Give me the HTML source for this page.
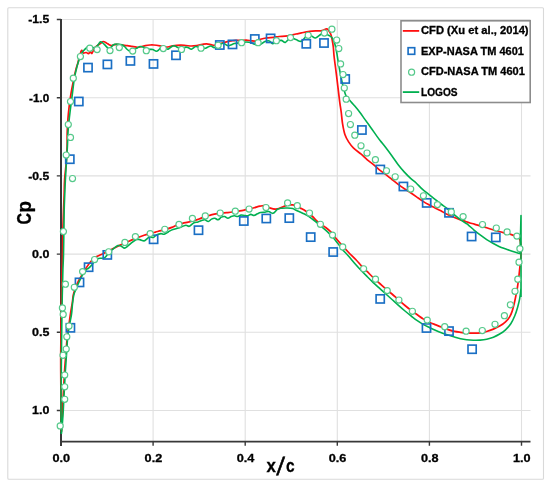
<!DOCTYPE html>
<html><head><meta charset="utf-8"><title>Cp distribution</title>
<style>html,body{margin:0;padding:0;background:#fff;width:550px;height:486px;overflow:hidden}svg{display:block}</style>
</head><body>
<svg width="550" height="486" viewBox="0 0 550 486">
<rect x="0" y="0" width="550" height="486" fill="#fff"/>
<rect x="7.8" y="7.7" width="535.7" height="471.6" rx="1" fill="#fff" stroke="#d9d9d9" stroke-width="1.1"/>
<path d="M153.10 19V441 M245.20 19V441 M337.30 19V441 M429.40 19V441 M521.50 19V441 M61 19.50H530.5 M61 97.70H530.5 M61 175.90H530.5 M61 254.10H530.5 M61 332.30H530.5 M61 410.50H530.5" stroke="#e0e0e0" stroke-width="1.1" fill="none"/>
<path d="M61 19V446" stroke="#383838" stroke-width="2" fill="none"/><path d="M60 441.6H530.5" stroke="#383838" stroke-width="1.6" fill="none"/>
<path d="M56.8 19.50H61 M56.8 97.70H61 M56.8 175.90H61 M56.8 254.10H61 M56.8 332.30H61 M56.8 410.50H61 M153.10 442V445.8 M245.20 442V445.8 M337.30 442V445.8 M429.40 442V445.8 M521.50 442V445.8" stroke="#383838" stroke-width="1.4" fill="none"/>
<text x="28.3" y="23.35" font-family="Liberation Sans, sans-serif" font-weight="bold" stroke="#000" stroke-width="0.3" font-size="11" fill="#000" textLength="21" lengthAdjust="spacingAndGlyphs">-1.5</text>
<text x="29.1" y="101.55" font-family="Liberation Sans, sans-serif" font-weight="bold" stroke="#000" stroke-width="0.3" font-size="11" fill="#000" textLength="20.2" lengthAdjust="spacingAndGlyphs">-1.0</text>
<text x="28.3" y="179.75" font-family="Liberation Sans, sans-serif" font-weight="bold" stroke="#000" stroke-width="0.3" font-size="11" fill="#000" textLength="21" lengthAdjust="spacingAndGlyphs">-0.5</text>
<text x="32.0" y="257.95" font-family="Liberation Sans, sans-serif" font-weight="bold" stroke="#000" stroke-width="0.3" font-size="11" fill="#000" textLength="17.3" lengthAdjust="spacingAndGlyphs">0.0</text>
<text x="32.0" y="336.15" font-family="Liberation Sans, sans-serif" font-weight="bold" stroke="#000" stroke-width="0.3" font-size="11" fill="#000" textLength="17.3" lengthAdjust="spacingAndGlyphs">0.5</text>
<text x="32.0" y="414.35" font-family="Liberation Sans, sans-serif" font-weight="bold" stroke="#000" stroke-width="0.3" font-size="11" fill="#000" textLength="17.3" lengthAdjust="spacingAndGlyphs">1.0</text>
<text x="52.50" y="461.9" font-family="Liberation Sans, sans-serif" font-weight="bold" stroke="#000" stroke-width="0.3" font-size="11" fill="#000" textLength="17.6" lengthAdjust="spacingAndGlyphs">0.0</text>
<text x="144.60" y="461.9" font-family="Liberation Sans, sans-serif" font-weight="bold" stroke="#000" stroke-width="0.3" font-size="11" fill="#000" textLength="17.6" lengthAdjust="spacingAndGlyphs">0.2</text>
<text x="236.70" y="461.9" font-family="Liberation Sans, sans-serif" font-weight="bold" stroke="#000" stroke-width="0.3" font-size="11" fill="#000" textLength="17.6" lengthAdjust="spacingAndGlyphs">0.4</text>
<text x="328.80" y="461.9" font-family="Liberation Sans, sans-serif" font-weight="bold" stroke="#000" stroke-width="0.3" font-size="11" fill="#000" textLength="17.6" lengthAdjust="spacingAndGlyphs">0.6</text>
<text x="420.90" y="461.9" font-family="Liberation Sans, sans-serif" font-weight="bold" stroke="#000" stroke-width="0.3" font-size="11" fill="#000" textLength="17.6" lengthAdjust="spacingAndGlyphs">0.8</text>
<text x="513.00" y="461.9" font-family="Liberation Sans, sans-serif" font-weight="bold" stroke="#000" stroke-width="0.3" font-size="11" fill="#000" textLength="17.6" lengthAdjust="spacingAndGlyphs">1.0</text>
<text transform="translate(266.4 471.6) scale(0.897 1)" font-family="Liberation Sans, sans-serif" font-weight="bold" stroke="#000" stroke-width="0.3" font-size="18.8" fill="#000">x</text>
<text transform="translate(276.3 474.6) skewX(-5.3)" font-family="Liberation Sans, sans-serif" font-size="25.3" fill="#000" stroke="#000" stroke-width="0.55">/</text>
<text transform="translate(285.9 471.8) scale(0.824 1)" font-family="Liberation Sans, sans-serif" font-weight="bold" stroke="#000" stroke-width="0.3" font-size="18.8" fill="#000">c</text>
<text transform="translate(30.7 224.44) rotate(-90) scale(0.82 1)" x="0" y="0" font-family="Liberation Sans, sans-serif" font-weight="bold" stroke="#000" stroke-width="0.3" font-size="19.5" fill="#000">C</text>
<text transform="translate(30.7 212.5) rotate(-90) scale(0.964 1)" x="0" y="0" font-family="Liberation Sans, sans-serif" font-weight="bold" stroke="#000" stroke-width="0.3" font-size="19.5" fill="#000">p</text>
<path d="M61.4,432C61.37,430.00 61.27,425.33 61.2,420C61.13,414.67 61.07,406.67 61,400C60.93,393.33 60.85,386.67 60.8,380C60.75,373.33 60.68,366.67 60.7,360C60.72,353.33 60.80,348.33 60.9,340C61.00,331.67 61.17,318.33 61.3,310C61.43,301.67 61.57,296.67 61.7,290C61.83,283.33 61.95,276.67 62.1,270C62.25,263.33 62.47,256.67 62.6,250C62.73,243.33 62.75,236.67 62.9,230C63.05,223.33 63.30,215.70 63.5,210C63.70,204.30 63.92,200.90 64.1,195.8C64.28,190.70 64.25,184.88 64.6,179.4C64.95,173.92 65.78,168.38 66.2,162.9C66.62,157.42 66.93,151.48 67.1,146.5C67.27,141.52 67.07,137.53 67.2,133C67.33,128.47 67.57,123.78 67.9,119.3C68.23,114.82 68.67,110.50 69.2,106.1C69.73,101.70 70.42,97.02 71.1,92.9C71.78,88.78 72.52,85.23 73.3,81.4C74.08,77.57 75.02,73.05 75.8,69.9C76.58,66.75 77.37,64.82 78,62.5C78.63,60.18 79.02,58.02 79.6,56C80.18,53.98 80.88,50.90 81.5,50.4C82.12,49.90 82.52,52.65 83.3,53C84.08,53.35 85.35,52.40 86.2,52.5C87.05,52.60 87.68,53.72 88.4,53.6C89.12,53.48 89.90,51.85 90.5,51.8C91.10,51.75 91.27,54.02 92,53.3C92.73,52.58 93.82,48.92 94.9,47.5C95.98,46.08 97.48,45.55 98.5,44.8C99.52,44.05 100.20,43.55 101,43C101.80,42.45 102.40,41.52 103.3,41.5C104.20,41.48 105.43,42.37 106.4,42.9C107.37,43.43 108.20,44.27 109.1,44.7C110.00,45.13 110.90,45.50 111.8,45.5C112.70,45.50 113.43,44.83 114.5,44.7C115.57,44.57 116.83,44.62 118.2,44.7C119.57,44.78 121.18,45.05 122.7,45.2C124.22,45.35 125.78,45.40 127.3,45.6C128.82,45.80 130.28,46.13 131.8,46.4C133.32,46.67 135.03,47.10 136.4,47.2C137.77,47.30 138.48,47.27 140,47C141.52,46.73 143.83,45.93 145.5,45.6C147.17,45.27 148.65,45.10 150,45C151.35,44.90 151.93,44.85 153.6,45C155.27,45.15 157.87,45.53 160,45.9C162.13,46.27 164.28,47.20 166.4,47.2C168.52,47.20 170.35,46.23 172.7,45.9C175.05,45.57 178.30,45.27 180.5,45.2C182.70,45.13 184.08,45.37 185.9,45.5C187.72,45.63 189.58,46.00 191.4,46C193.22,46.00 194.98,45.77 196.8,45.5C198.62,45.23 200.67,44.68 202.3,44.4C203.93,44.12 205.15,43.77 206.6,43.8C208.05,43.83 209.72,44.35 211,44.6C212.28,44.85 213.05,45.40 214.3,45.3C215.55,45.20 217.05,44.43 218.5,44C219.95,43.57 221.52,43.10 223,42.7C224.48,42.30 226.07,41.88 227.4,41.6C228.73,41.32 229.65,41.22 231,41C232.35,40.78 233.85,40.40 235.5,40.3C237.15,40.20 239.08,40.43 240.9,40.4C242.72,40.37 244.58,40.02 246.4,40.1C248.22,40.18 250.17,40.77 251.8,40.9C253.43,41.03 254.75,41.17 256.2,40.9C257.65,40.63 258.87,39.78 260.5,39.3C262.13,38.82 263.82,38.33 266,38C268.18,37.67 271.42,37.55 273.6,37.3C275.78,37.05 277.20,36.70 279.1,36.5C281.00,36.30 283.10,36.30 285,36.1C286.90,35.90 288.68,35.65 290.5,35.3C292.32,34.95 294.08,34.40 295.9,34C297.72,33.60 299.58,33.27 301.4,32.9C303.22,32.53 304.98,32.10 306.8,31.8C308.62,31.50 310.48,31.25 312.3,31.1C314.12,30.95 316.07,30.98 317.7,30.9C319.33,30.82 320.63,30.93 322.1,30.6C323.57,30.27 325.42,28.93 326.5,28.9C327.58,28.87 327.88,29.52 328.6,30.4C329.32,31.28 330.20,32.60 330.8,34.2C331.40,35.80 331.78,37.87 332.2,40C332.62,42.13 332.98,44.25 333.3,47C333.62,49.75 333.62,52.18 334.1,56.5C334.58,60.82 335.52,67.42 336.2,72.9C336.88,78.38 337.60,84.45 338.2,89.4C338.80,94.35 339.30,98.83 339.8,102.6C340.30,106.37 340.75,108.53 341.2,112C341.65,115.47 341.88,119.65 342.5,123.4C343.12,127.15 343.88,131.42 344.9,134.5C345.92,137.58 347.15,139.63 348.6,141.9C350.05,144.17 351.50,146.05 353.6,148.1C355.70,150.15 358.92,152.25 361.2,154.2C363.48,156.15 365.25,158.05 367.3,159.8C369.35,161.55 371.43,162.97 373.5,164.7C375.57,166.43 377.63,168.55 379.7,170.2C381.77,171.85 383.85,173.05 385.9,174.6C387.95,176.15 389.95,177.87 392,179.5C394.05,181.13 396.13,182.85 398.2,184.4C400.27,185.95 402.33,187.40 404.4,188.8C406.47,190.20 408.63,191.50 410.6,192.8C412.57,194.10 414.25,195.25 416.2,196.6C418.15,197.95 420.25,199.57 422.3,200.9C424.35,202.23 426.43,203.47 428.5,204.6C430.57,205.73 432.63,206.67 434.7,207.7C436.77,208.73 438.85,209.70 440.9,210.8C442.95,211.90 444.95,213.27 447,214.3C449.05,215.33 451.13,216.15 453.2,217C455.27,217.85 457.33,218.65 459.4,219.4C461.47,220.15 463.83,220.90 465.6,221.5C467.37,222.10 468.55,222.57 470,223C471.45,223.43 472.55,223.60 474.3,224.1C476.05,224.60 478.43,225.38 480.5,226C482.57,226.62 484.63,227.18 486.7,227.8C488.77,228.42 490.85,229.08 492.9,229.7C494.95,230.32 496.95,230.93 499,231.5C501.05,232.07 503.13,232.58 505.2,233.1C507.27,233.62 509.55,234.03 511.4,234.6C513.25,235.17 514.93,235.80 516.3,236.5C517.67,237.20 518.83,237.38 519.6,238.8C520.37,240.22 520.67,242.80 520.9,245C521.13,247.20 521.02,249.77 521,252C520.98,254.23 521.00,255.73 520.8,258.4C520.60,261.07 520.15,264.73 519.8,268C519.45,271.27 519.08,274.83 518.7,278C518.32,281.17 517.97,284.05 517.5,287C517.03,289.95 516.45,292.92 515.9,295.7C515.35,298.48 514.82,301.13 514.2,303.7C513.58,306.27 512.98,308.87 512.2,311.1C511.42,313.33 510.62,315.32 509.5,317.1C508.38,318.88 507.07,320.35 505.5,321.8C503.93,323.25 502.12,324.58 500.1,325.8C498.08,327.02 495.63,328.15 493.4,329.1C491.17,330.05 488.92,330.87 486.7,331.5C484.48,332.13 482.32,332.63 480.1,332.9C477.88,333.17 475.63,333.10 473.4,333.1C471.17,333.10 468.83,333.03 466.7,332.9C464.57,332.77 462.65,332.55 460.6,332.3C458.55,332.05 456.47,331.85 454.4,331.4C452.33,330.95 450.27,330.28 448.2,329.6C446.13,328.92 444.05,328.08 442,327.3C439.95,326.52 437.95,325.72 435.9,324.9C433.85,324.08 431.77,323.37 429.7,322.4C427.63,321.43 425.57,320.37 423.5,319.1C421.43,317.83 419.35,316.25 417.3,314.8C415.25,313.35 413.25,311.95 411.2,310.4C409.15,308.85 407.17,307.32 405,305.5C402.83,303.68 400.37,301.42 398.2,299.5C396.03,297.58 394.05,295.75 392,294C389.95,292.25 387.95,290.75 385.9,289C383.85,287.25 381.77,285.35 379.7,283.5C377.63,281.65 375.57,279.87 373.5,277.9C371.43,275.93 369.35,273.75 367.3,271.7C365.25,269.65 363.05,267.55 361.2,265.6C359.35,263.65 358.37,262.27 356.2,260C354.03,257.73 350.57,254.47 348.2,252C345.83,249.53 344.05,247.50 342,245.2C339.95,242.90 337.80,240.45 335.9,238.2C334.00,235.95 332.45,233.60 330.6,231.7C328.75,229.80 327.00,228.50 324.8,226.8C322.60,225.10 319.45,223.22 317.4,221.5C315.35,219.78 314.42,218.22 312.5,216.5C310.58,214.78 307.97,212.63 305.9,211.2C303.83,209.77 301.38,208.67 300.1,207.9C298.82,207.13 299.43,207.10 298.2,206.6C296.97,206.10 294.52,205.13 292.7,204.9C290.88,204.67 289.12,204.78 287.3,205.2C285.48,205.62 283.43,206.78 281.8,207.4C280.17,208.02 278.95,208.65 277.5,208.9C276.05,209.15 274.57,209.12 273.1,208.9C271.63,208.68 270.15,208.13 268.7,207.6C267.25,207.07 265.85,205.93 264.4,205.7C262.95,205.47 261.72,205.85 260,206.2C258.28,206.55 256.00,207.30 254.1,207.8C252.20,208.30 250.42,208.78 248.6,209.2C246.78,209.62 245.02,209.98 243.2,210.3C241.38,210.62 239.52,210.82 237.7,211.1C235.88,211.38 234.12,211.73 232.3,212C230.48,212.27 228.62,212.48 226.8,212.7C224.98,212.92 223.22,213.12 221.4,213.3C219.58,213.48 217.72,213.50 215.9,213.8C214.08,214.10 212.32,214.65 210.5,215.1C208.68,215.55 206.90,215.85 205,216.5C203.10,217.15 201.00,218.28 199.1,219C197.20,219.72 195.42,220.27 193.6,220.8C191.78,221.33 190.02,221.78 188.2,222.2C186.38,222.62 184.52,222.85 182.7,223.3C180.88,223.75 179.12,224.22 177.3,224.9C175.48,225.58 173.62,226.68 171.8,227.4C169.98,228.12 168.22,228.67 166.4,229.2C164.58,229.73 162.72,230.12 160.9,230.6C159.08,231.08 157.32,231.60 155.5,232.1C153.68,232.60 151.90,233.07 150,233.6C148.10,234.13 146.00,234.70 144.1,235.3C142.20,235.90 140.42,236.52 138.6,237.2C136.78,237.88 135.02,238.63 133.2,239.4C131.38,240.17 129.52,241.00 127.7,241.8C125.88,242.60 124.12,243.38 122.3,244.2C120.48,245.02 118.62,245.82 116.8,246.7C114.98,247.58 113.20,248.57 111.4,249.5C109.60,250.43 107.37,251.60 106,252.3C104.63,253.00 104.37,253.17 103.2,253.7C102.03,254.23 100.38,254.87 99,255.5C97.62,256.13 96.27,256.50 94.9,257.5C93.53,258.50 92.17,259.90 90.8,261.5C89.43,263.10 88.07,265.05 86.7,267.1C85.33,269.15 83.97,271.48 82.6,273.8C81.23,276.12 79.70,278.60 78.5,281C77.30,283.40 76.27,285.87 75.4,288.2C74.53,290.53 73.82,292.55 73.3,295C72.78,297.45 72.75,299.93 72.3,302.9C71.85,305.87 71.15,309.23 70.6,312.8C70.05,316.37 69.55,320.47 69,324.3C68.45,328.13 67.77,331.52 67.3,335.8C66.83,340.08 66.55,345.63 66.2,350C65.85,354.37 65.48,358.33 65.2,362C64.92,365.67 64.73,368.17 64.5,372C64.27,375.83 64.05,380.33 63.8,385C63.55,389.67 63.25,395.00 63,400C62.75,405.00 62.52,410.33 62.3,415C62.08,419.67 61.85,425.17 61.7,428C61.55,430.83 61.45,431.33 61.4,432" fill="none" stroke="#ff0f0f" stroke-width="1.7" stroke-linejoin="round"/>
<path d="M61.4,434C61.35,431.67 61.17,425.67 61.1,420C61.03,414.33 60.98,406.67 61,400C61.02,393.33 61.13,386.67 61.2,380C61.27,373.33 61.33,366.67 61.4,360C61.47,353.33 61.50,348.33 61.6,340C61.70,331.67 61.87,318.33 62,310C62.13,301.67 62.25,296.67 62.4,290C62.55,283.33 62.72,275.83 62.9,270C63.08,264.17 63.33,261.67 63.5,255C63.67,248.33 63.78,237.50 63.9,230C64.02,222.50 64.07,215.70 64.2,210C64.33,204.30 64.50,200.90 64.7,195.8C64.90,190.70 65.12,184.88 65.4,179.4C65.68,173.92 66.07,168.38 66.4,162.9C66.73,157.42 67.13,151.65 67.4,146.5C67.67,141.35 67.70,136.53 68,132C68.30,127.47 68.73,123.62 69.2,119.3C69.67,114.98 70.25,110.50 70.8,106.1C71.35,101.70 71.90,97.57 72.5,92.9C73.10,88.23 73.72,82.22 74.4,78.1C75.08,73.98 75.92,70.97 76.6,68.2C77.28,65.43 77.87,63.62 78.5,61.5C79.13,59.38 79.60,57.23 80.4,55.5C81.20,53.77 82.22,52.43 83.3,51.1C84.38,49.77 85.70,48.30 86.9,47.5C88.10,46.70 89.40,46.27 90.5,46.3C91.60,46.33 92.52,47.63 93.5,47.7C94.48,47.77 95.43,47.47 96.4,46.7C97.37,45.93 98.62,43.92 99.3,43.1C99.98,42.28 99.93,41.83 100.5,41.8C101.07,41.77 101.87,42.27 102.7,42.9C103.53,43.53 104.58,44.72 105.5,45.6C106.42,46.48 107.30,47.88 108.2,48.2C109.10,48.52 110.00,48.08 110.9,47.5C111.80,46.92 112.68,45.28 113.6,44.7C114.52,44.12 115.03,44.00 116.4,44C117.77,44.00 120.45,44.28 121.8,44.7C123.15,45.12 123.58,45.70 124.5,46.5C125.42,47.30 126.38,48.72 127.3,49.5C128.22,50.28 129.05,51.07 130,51.2C130.95,51.33 131.93,50.77 133,50.3C134.07,49.83 135.23,49.03 136.4,48.4C137.57,47.77 138.95,46.73 140,46.5C141.05,46.27 141.78,46.77 142.7,47C143.62,47.23 144.43,47.52 145.5,47.9C146.57,48.28 147.90,49.03 149.1,49.3C150.30,49.57 151.48,49.18 152.7,49.5C153.92,49.82 155.33,51.20 156.4,51.2C157.47,51.20 158.20,50.23 159.1,49.5C160.00,48.77 160.82,47.08 161.8,46.8C162.78,46.52 163.93,47.42 165,47.8C166.07,48.18 166.92,49.42 168.2,49.1C169.48,48.78 171.48,46.37 172.7,45.9C173.92,45.43 174.57,46.02 175.5,46.3C176.43,46.58 177.22,47.23 178.3,47.6C179.38,47.97 180.73,48.58 182,48.5C183.27,48.42 184.82,47.22 185.9,47.1C186.98,46.98 187.58,47.43 188.5,47.8C189.42,48.17 190.20,49.52 191.4,49.3C192.60,49.08 194.43,46.80 195.7,46.5C196.97,46.20 198.03,47.20 199,47.5C199.97,47.80 200.42,48.18 201.5,48.3C202.58,48.42 204.42,48.42 205.5,48.2C206.58,47.98 207.08,47.37 208,47C208.92,46.63 209.95,45.90 211,46C212.05,46.10 213.13,47.63 214.3,47.6C215.47,47.57 216.55,46.52 218,45.8C219.45,45.08 221.43,43.35 223,43.3C224.57,43.25 226.23,45.17 227.4,45.5C228.57,45.83 228.83,45.62 230,45.3C231.17,44.98 233.07,43.98 234.4,43.6C235.73,43.22 236.82,43.18 238,43C239.18,42.82 240.10,42.67 241.5,42.5C242.90,42.33 244.87,42.00 246.4,42C247.93,42.00 249.18,42.08 250.7,42.5C252.22,42.92 253.87,44.22 255.5,44.5C257.13,44.78 258.93,44.70 260.5,44.2C262.07,43.70 263.43,42.05 264.9,41.5C266.37,40.95 268.03,40.55 269.3,40.9C270.57,41.25 271.30,43.50 272.5,43.6C273.70,43.70 275.03,42.03 276.5,41.5C277.97,40.97 279.83,40.25 281.3,40.4C282.77,40.55 283.77,42.80 285.3,42.4C286.83,42.00 288.73,38.47 290.5,38C292.27,37.53 294.08,39.05 295.9,39.6C297.72,40.15 299.58,41.93 301.4,41.3C303.22,40.67 305.17,36.72 306.8,35.8C308.43,34.88 309.75,35.43 311.2,35.8C312.65,36.17 313.87,38.27 315.5,38C317.13,37.73 319.53,35.05 321,34.2C322.47,33.35 323.03,32.72 324.3,32.9C325.57,33.08 327.33,34.53 328.6,35.3C329.87,36.07 330.98,36.42 331.9,37.5C332.82,38.58 333.47,40.17 334.1,41.8C334.73,43.43 335.25,45.40 335.7,47.3C336.15,49.20 336.25,50.03 336.8,53.2C337.35,56.37 338.22,61.92 339,66.3C339.78,70.68 340.68,75.65 341.5,79.5C342.32,83.35 343.12,86.62 343.9,89.4C344.68,92.18 345.20,94.33 346.2,96.2C347.20,98.07 348.47,98.95 349.9,100.6C351.33,102.25 353.15,104.15 354.8,106.1C356.45,108.05 358.15,110.13 359.8,112.3C361.45,114.47 362.85,116.53 364.7,119.1C366.55,121.67 368.85,124.82 370.9,127.7C372.95,130.58 375.43,134.22 377,136.4C378.57,138.58 378.82,138.90 380.3,140.8C381.78,142.70 383.95,145.27 385.9,147.8C387.85,150.33 389.95,153.18 392,156C394.05,158.82 396.13,162.02 398.2,164.7C400.27,167.38 402.33,169.83 404.4,172.1C406.47,174.37 408.63,176.48 410.6,178.3C412.57,180.12 414.25,181.18 416.2,183C418.15,184.82 420.25,187.35 422.3,189.2C424.35,191.05 426.43,192.45 428.5,194.1C430.57,195.75 432.63,197.45 434.7,199.1C436.77,200.75 438.85,202.47 440.9,204C442.95,205.53 444.95,206.65 447,208.3C449.05,209.95 451.13,212.15 453.2,213.9C455.27,215.65 457.33,217.27 459.4,218.8C461.47,220.33 464.13,222.10 465.6,223.1C467.07,224.10 466.75,223.60 468.2,224.8C469.65,226.00 472.25,228.57 474.3,230.3C476.35,232.03 478.43,233.65 480.5,235.2C482.57,236.75 484.63,238.25 486.7,239.6C488.77,240.95 490.85,242.17 492.9,243.3C494.95,244.43 496.95,245.48 499,246.4C501.05,247.32 503.13,248.05 505.2,248.8C507.27,249.55 509.55,250.28 511.4,250.9C513.25,251.52 514.87,252.02 516.3,252.5C517.73,252.98 519.38,253.58 520,253.8 M521,288C520.92,288.83 520.75,291.05 520.5,293C520.25,294.95 520.00,297.25 519.5,299.7C519.00,302.15 518.28,305.02 517.5,307.7C516.72,310.38 515.92,313.12 514.8,315.8C513.68,318.48 512.35,321.47 510.8,323.8C509.25,326.13 507.28,328.13 505.5,329.8C503.72,331.47 502.12,332.57 500.1,333.8C498.08,335.03 495.63,336.30 493.4,337.2C491.17,338.10 488.92,338.72 486.7,339.2C484.48,339.68 482.32,339.93 480.1,340.1C477.88,340.27 475.63,340.25 473.4,340.2C471.17,340.15 468.83,340.03 466.7,339.8C464.57,339.57 462.65,339.27 460.6,338.8C458.55,338.33 456.47,337.62 454.4,337C452.33,336.38 450.27,335.77 448.2,335.1C446.13,334.43 444.05,333.75 442,333C439.95,332.25 437.95,331.48 435.9,330.6C433.85,329.72 431.77,328.70 429.7,327.7C427.63,326.70 425.57,325.77 423.5,324.6C421.43,323.43 419.35,322.13 417.3,320.7C415.25,319.27 413.25,317.62 411.2,316C409.15,314.38 407.17,312.82 405,311C402.83,309.18 400.37,307.02 398.2,305.1C396.03,303.18 394.05,301.35 392,299.5C389.95,297.65 387.95,295.85 385.9,294C383.85,292.15 381.77,290.27 379.7,288.4C377.63,286.53 375.57,284.75 373.5,282.8C371.43,280.85 369.35,278.75 367.3,276.7C365.25,274.65 363.25,272.67 361.2,270.5C359.15,268.33 357.17,266.17 355,263.7C352.83,261.23 350.37,258.17 348.2,255.7C346.03,253.23 344.05,251.37 342,248.9C339.95,246.43 337.53,242.93 335.9,240.9C334.27,238.87 333.63,238.23 332.2,236.7C330.77,235.17 329.22,233.48 327.3,231.7C325.38,229.92 322.77,227.78 320.7,226C318.63,224.22 316.97,222.65 314.9,221C312.83,219.35 310.35,217.40 308.3,216.1C306.25,214.80 304.65,214.17 302.6,213.2C300.55,212.23 297.65,211.08 296,210.3C294.35,209.52 294.15,208.88 292.7,208.5C291.25,208.12 289.12,208.05 287.3,208C285.48,207.95 283.43,207.98 281.8,208.2C280.17,208.42 278.95,208.45 277.5,209.3C276.05,210.15 274.57,212.93 273.1,213.3C271.63,213.67 270.05,211.68 268.7,211.5C267.35,211.32 266.35,212.03 265,212.2C263.65,212.37 261.87,212.23 260.6,212.5C259.33,212.77 258.48,213.30 257.4,213.8C256.32,214.30 255.20,215.40 254.1,215.5C253.00,215.60 251.90,214.35 250.8,214.4C249.70,214.45 248.58,215.62 247.5,215.8C246.42,215.98 245.38,215.62 244.3,215.5C243.22,215.38 242.10,214.93 241,215.1C239.90,215.27 238.78,216.38 237.7,216.5C236.62,216.62 235.58,215.80 234.5,215.8C233.42,215.80 232.30,216.10 231.2,216.5C230.10,216.90 229.00,218.20 227.9,218.2C226.80,218.20 225.68,216.68 224.6,216.5C223.52,216.32 222.48,216.55 221.4,217.1C220.32,217.65 219.20,219.62 218.1,219.8C217.00,219.98 215.90,218.32 214.8,218.2C213.70,218.08 212.58,218.55 211.5,219.1C210.42,219.65 209.38,221.38 208.3,221.5C207.22,221.62 205.98,220.00 205,219.8C204.02,219.60 203.57,219.95 202.4,220.3C201.23,220.65 199.47,221.45 198,221.9C196.53,222.35 195.05,222.27 193.6,223C192.15,223.73 190.57,225.93 189.3,226.3C188.03,226.67 187.10,225.20 186,225.2C184.90,225.20 183.97,225.82 182.7,226.3C181.43,226.78 180.03,227.57 178.4,228.1C176.77,228.63 174.55,228.90 172.9,229.5C171.25,230.10 169.95,230.92 168.5,231.7C167.05,232.48 165.47,233.88 164.2,234.2C162.93,234.52 162.18,233.47 160.9,233.6C159.62,233.73 157.77,234.35 156.5,235C155.23,235.65 154.38,237.17 153.3,237.5C152.22,237.83 150.98,236.83 150,237C149.02,237.17 148.38,237.85 147.4,238.5C146.42,239.15 145.38,240.72 144.1,240.9C142.82,241.08 140.97,239.82 139.7,239.6C138.43,239.38 137.77,239.13 136.5,239.6C135.23,240.07 133.57,241.30 132.1,242.4C130.63,243.50 128.97,245.25 127.7,246.2C126.43,247.15 125.58,248.10 124.5,248.1C123.42,248.10 122.30,246.62 121.2,246.2C120.10,245.78 119.35,245.05 117.9,245.6C116.45,246.15 114.13,248.13 112.5,249.5C110.87,250.87 109.48,252.40 108.1,253.8C106.72,255.20 105.80,257.13 104.2,257.9C102.60,258.67 100.05,257.98 98.5,258.4C96.95,258.82 96.02,259.28 94.9,260.4C93.78,261.52 92.83,263.82 91.8,265.1C90.77,266.38 89.63,267.33 88.7,268.1C87.77,268.87 87.22,268.58 86.2,269.7C85.18,270.82 83.72,272.92 82.6,274.8C81.48,276.68 80.53,278.77 79.5,281C78.47,283.23 77.35,285.87 76.4,288.2C75.45,290.53 74.45,292.37 73.8,295C73.15,297.63 72.88,300.77 72.5,304C72.12,307.23 72.00,310.90 71.5,314.4C71.00,317.90 70.12,321.40 69.5,325C68.88,328.60 68.25,331.83 67.8,336C67.35,340.17 67.10,345.67 66.8,350C66.50,354.33 66.25,358.33 66,362C65.75,365.67 65.53,368.17 65.3,372C65.07,375.83 64.85,380.33 64.6,385C64.35,389.67 64.07,395.00 63.8,400C63.53,405.00 63.30,410.33 63,415C62.70,419.67 62.27,424.83 62,428C61.73,431.17 61.50,433.00 61.4,434 M520,253.8L521,215.5L521,297" fill="none" stroke="#00b050" stroke-width="1.6" stroke-linejoin="round"/>
<g fill="none" stroke="#1a6fc4" stroke-width="1.65"><rect x="65.7" y="155.1" width="8.2" height="8.2"/><rect x="74.7" y="97.4" width="8.2" height="8.2"/><rect x="83.9" y="63.5" width="8.2" height="8.2"/><rect x="103.3" y="60.3" width="8.2" height="8.2"/><rect x="126.3" y="56.8" width="8.2" height="8.2"/><rect x="149.4" y="59.8" width="8.2" height="8.2"/><rect x="171.9" y="51.2" width="8.2" height="8.2"/><rect x="215.7" y="40.9" width="8.2" height="8.2"/><rect x="228.4" y="40.3" width="8.2" height="8.2"/><rect x="250.7" y="34.9" width="8.2" height="8.2"/><rect x="266.5" y="34.3" width="8.2" height="8.2"/><rect x="302.2" y="39.7" width="8.2" height="8.2"/><rect x="319.9" y="38.9" width="8.2" height="8.2"/><rect x="341.1" y="74.9" width="8.2" height="8.2"/><rect x="357.8" y="125.9" width="8.2" height="8.2"/><rect x="376.2" y="165.4" width="8.2" height="8.2"/><rect x="399.3" y="182.4" width="8.2" height="8.2"/><rect x="422.6" y="198.8" width="8.2" height="8.2"/><rect x="444.9" y="208.7" width="8.2" height="8.2"/><rect x="467.5" y="232.4" width="8.2" height="8.2"/><rect x="491.7" y="233.3" width="8.2" height="8.2"/><rect x="66.3" y="323.7" width="8.2" height="8.2"/><rect x="75.4" y="278.3" width="8.2" height="8.2"/><rect x="84.5" y="263.1" width="8.2" height="8.2"/><rect x="103.2" y="250.8" width="8.2" height="8.2"/><rect x="149.5" y="235.2" width="8.2" height="8.2"/><rect x="194.4" y="226.1" width="8.2" height="8.2"/><rect x="239.7" y="216.9" width="8.2" height="8.2"/><rect x="262.2" y="214.4" width="8.2" height="8.2"/><rect x="285.2" y="214.0" width="8.2" height="8.2"/><rect x="306.6" y="233.0" width="8.2" height="8.2"/><rect x="329.1" y="247.9" width="8.2" height="8.2"/><rect x="376.1" y="294.8" width="8.2" height="8.2"/><rect x="422.4" y="323.9" width="8.2" height="8.2"/><rect x="444.9" y="327.0" width="8.2" height="8.2"/><rect x="468.0" y="345.1" width="8.2" height="8.2"/></g>
<g fill="#fff" stroke="#55c98a" stroke-width="1.15"><circle cx="60.2" cy="425.9" r="3.05"/><circle cx="64.7" cy="399.3" r="3.05"/><circle cx="64.7" cy="386.8" r="3.05"/><circle cx="64.7" cy="375" r="3.05"/><circle cx="63" cy="355.3" r="3.05"/><circle cx="66.2" cy="349" r="3.05"/><circle cx="66.8" cy="336.8" r="3.05"/><circle cx="69" cy="326" r="3.05"/><circle cx="63.2" cy="314.4" r="3.05"/><circle cx="62.4" cy="307.9" r="3.05"/><circle cx="65.4" cy="284.2" r="3.05"/><circle cx="63.4" cy="231.5" r="3.05"/><circle cx="72.5" cy="178.5" r="3.05"/><circle cx="66.2" cy="155" r="3.05"/><circle cx="70.5" cy="137.4" r="3.05"/><circle cx="68.3" cy="124.5" r="3.05"/><circle cx="70.5" cy="101.5" r="3.05"/><circle cx="73.3" cy="78.2" r="3.05"/><circle cx="80.4" cy="56.5" r="3.05"/><circle cx="89.8" cy="48.2" r="3.05"/><circle cx="97.1" cy="49.6" r="3.05"/><circle cx="110" cy="50.6" r="3.05"/><circle cx="119.3" cy="47.6" r="3.05"/><circle cx="132.7" cy="51.1" r="3.05"/><circle cx="146.3" cy="50.7" r="3.05"/><circle cx="163.3" cy="48.5" r="3.05"/><circle cx="181.5" cy="49.4" r="3.05"/><circle cx="201" cy="48.2" r="3.05"/><circle cx="218.1" cy="45.3" r="3.05"/><circle cx="241.6" cy="42.7" r="3.05"/><circle cx="258.1" cy="42.7" r="3.05"/><circle cx="276.4" cy="40.7" r="3.05"/><circle cx="290.5" cy="37.6" r="3.05"/><circle cx="308.2" cy="35.3" r="3.05"/><circle cx="324.4" cy="33" r="3.05"/><circle cx="331.9" cy="29.2" r="3.05"/><circle cx="336.7" cy="40" r="3.05"/><circle cx="338.8" cy="48.5" r="3.05"/><circle cx="340.6" cy="63.9" r="3.05"/><circle cx="343" cy="74.6" r="3.05"/><circle cx="344.3" cy="88" r="3.05"/><circle cx="346.2" cy="99.2" r="3.05"/><circle cx="348.6" cy="113.6" r="3.05"/><circle cx="350.4" cy="124.5" r="3.05"/><circle cx="354.8" cy="135.2" r="3.05"/><circle cx="361" cy="145.8" r="3.05"/><circle cx="367" cy="153" r="3.05"/><circle cx="375.4" cy="159.7" r="3.05"/><circle cx="386.5" cy="170.8" r="3.05"/><circle cx="395.2" cy="176.8" r="3.05"/><circle cx="410.7" cy="189" r="3.05"/><circle cx="423.4" cy="195.8" r="3.05"/><circle cx="437.4" cy="204.6" r="3.05"/><circle cx="451.3" cy="211.9" r="3.05"/><circle cx="463.1" cy="216.6" r="3.05"/><circle cx="482.5" cy="224.5" r="3.05"/><circle cx="496.3" cy="228" r="3.05"/><circle cx="507.1" cy="231.9" r="3.05"/><circle cx="516.9" cy="236.1" r="3.05"/><circle cx="519.9" cy="248.7" r="3.05"/><circle cx="519" cy="262.2" r="3.05"/><circle cx="517.8" cy="279.2" r="3.05"/><circle cx="515" cy="291.3" r="3.05"/><circle cx="510.4" cy="304.8" r="3.05"/><circle cx="504.4" cy="315.7" r="3.05"/><circle cx="495" cy="324.3" r="3.05"/><circle cx="482.3" cy="330.5" r="3.05"/><circle cx="466.1" cy="331.2" r="3.05"/><circle cx="444.7" cy="326.7" r="3.05"/><circle cx="427.2" cy="320.1" r="3.05"/><circle cx="412.4" cy="311.3" r="3.05"/><circle cx="398.9" cy="300" r="3.05"/><circle cx="387.2" cy="290.6" r="3.05"/><circle cx="375.5" cy="279.2" r="3.05"/><circle cx="363.6" cy="268.8" r="3.05"/><circle cx="342.7" cy="246.9" r="3.05"/><circle cx="332.5" cy="235.1" r="3.05"/><circle cx="320.4" cy="224.3" r="3.05"/><circle cx="309.5" cy="213" r="3.05"/><circle cx="297.3" cy="205.7" r="3.05"/><circle cx="287.6" cy="202.9" r="3.05"/><circle cx="266" cy="207.5" r="3.05"/><circle cx="249.1" cy="209" r="3.05"/><circle cx="235.3" cy="211.2" r="3.05"/><circle cx="220.2" cy="213" r="3.05"/><circle cx="205.3" cy="215.9" r="3.05"/><circle cx="192.4" cy="218.4" r="3.05"/><circle cx="179" cy="224.4" r="3.05"/><circle cx="164.8" cy="229.3" r="3.05"/><circle cx="150.2" cy="233.6" r="3.05"/><circle cx="135.4" cy="236.6" r="3.05"/><circle cx="124.9" cy="242.4" r="3.05"/><circle cx="108.7" cy="251.8" r="3.05"/><circle cx="94.6" cy="259.5" r="3.05"/><circle cx="82.6" cy="271.6" r="3.05"/><circle cx="74.3" cy="287.3" r="3.05"/></g>
<rect x="401" y="20.8" width="129.2" height="81.7" fill="#fff" stroke="#8c8c8c" stroke-width="1.6"/>
<path d="M402.8 30.9H419.2" stroke="#ff0f0f" stroke-width="1.8"/>
<rect x="408.1" y="47.7" width="6.6" height="6.6" fill="none" stroke="#1a6fc4" stroke-width="1.65"/>
<circle cx="411.6" cy="72.2" r="3.05" fill="#fff" stroke="#55c98a" stroke-width="1.15"/>
<path d="M402.8 92.1H419.2" stroke="#00b050" stroke-width="1.8"/>
<text x="421" y="34.3" font-family="Liberation Sans, sans-serif" font-weight="bold" stroke="#000" stroke-width="0.3" font-size="10.6" fill="#000" textLength="107.6" lengthAdjust="spacingAndGlyphs">CFD (Xu et al., 2014)</text>
<text x="421" y="55.0" font-family="Liberation Sans, sans-serif" font-weight="bold" stroke="#000" stroke-width="0.3" font-size="10.6" fill="#000" textLength="103" lengthAdjust="spacingAndGlyphs">EXP-NASA TM 4601</text>
<text x="421" y="75.2" font-family="Liberation Sans, sans-serif" font-weight="bold" stroke="#000" stroke-width="0.3" font-size="10.6" fill="#000" textLength="103.8" lengthAdjust="spacingAndGlyphs">CFD-NASA TM 4601</text>
<text x="421" y="95.8" font-family="Liberation Sans, sans-serif" font-weight="bold" stroke="#000" stroke-width="0.3" font-size="10.6" fill="#000" textLength="36.6" lengthAdjust="spacingAndGlyphs">LOGOS</text>
</svg>
</body></html>
